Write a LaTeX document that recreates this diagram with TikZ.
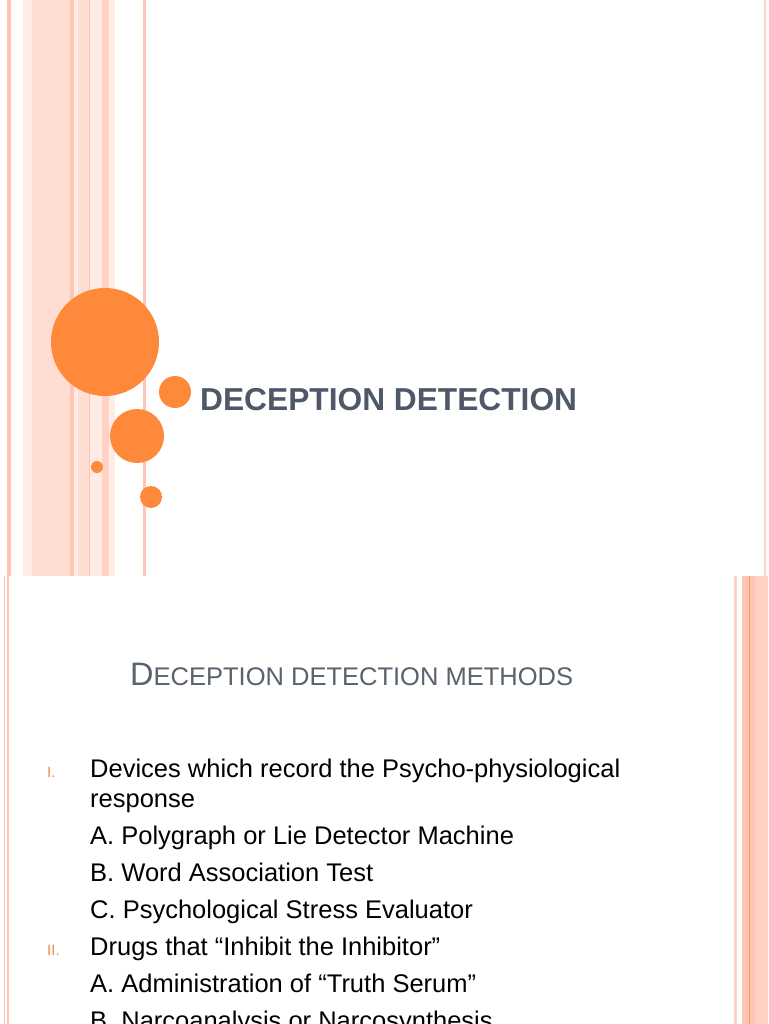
\documentclass[tikz,border=0pt]{standalone}
\usepackage{fontspec}
\setmainfont{Liberation Sans}
\begin{document}
\begin{tikzpicture}[x=1pt,y=-1pt,
  orng/.style={fill={rgb,255:red,255;green,137;blue,58}, draw=none},
  title/.style={font=\fontsize{31.7}{34}\selectfont\bfseries, text={rgb,255:red,79;green,88;blue,104}, anchor=base west, inner sep=0},
  item/.style={font=\fontsize{25.5}{28}\selectfont, anchor=base west, inner sep=0},
  num/.style={font=\fontsize{15}{18}\selectfont, text={rgb,255:red,240;green,140;blue,80}, anchor=base west, inner sep=0}]
\definecolor{p1}{RGB}{255,221,210}
\definecolor{p2}{RGB}{255,196,178}
\definecolor{p3}{RGB}{255,236,230}
\definecolor{p4}{RGB}{255,210,196}
\definecolor{o2}{RGB}{250,150,95}
\useasboundingbox (0,0) rectangle (768,1024);
\fill[white] (0,0) rectangle (768,1024);
% top slide stripes
\fill[p2] (7,0) rectangle (11,576);
\fill[p3] (23,0) rectangle (32,576);
\fill[p1] (32,0) rectangle (70,576);
\fill[p2] (70,0) rectangle (74,576);
\fill[p3] (74,0) rectangle (78,576);
\fill[p1] (78,0) rectangle (89,576);
\fill[p2] (89,0) rectangle (90,576);
\fill[p3] (90,0) rectangle (102,576);
\fill[p4] (102,0) rectangle (109,576);
\fill[p3] (109,0) rectangle (115,576);
\fill[p2] (143,0) rectangle (146,576);
\fill[p4] (764,0) rectangle (766,576);
% circles
\fill[orng] (105,342) circle (54);
\fill[orng] (175,392) circle (16);
\fill[orng] (137,436) circle (27);
\fill[orng] (97,467) circle (6);
\fill[orng] (151,497) circle (11);
\node[title] (t1) at (200,410) {DECEPTION DETECTION};
% bottom slide stripes
\fill[p2] (4,576) rectangle (5,1024);
\fill[p2] (7,576) rectangle (9,1024);
\fill[p4] (734,576) rectangle (737,1024);
\fill[p2] (742,576) rectangle (768,1024);
\fill[o2] (748.5,576) rectangle (750,1024);
\fill[p4] (755,576) rectangle (768,1024);
\node[anchor=base west, inner sep=0, text={rgb,255:red,89;green,99;blue,110}] (t2) at (130,685)
  {\fontsize{32.5}{34}\selectfont D\fontsize{25.5}{28}\selectfont ECEPTION DETECTION METHODS};
\node[num] (n1) at (47,777) {I.};
\node[item] (l1) at (90,777) {Devices which record the Psycho-physiological};
\node[item] (l2) at (90,807) {response};
\node[item] (l3) at (90,844) {A. Polygraph or Lie Detector Machine};
\node[item] (l4) at (90,881) {B. Word Association Test};
\node[item] (l5) at (90,918) {C. Psychological Stress Evaluator};
\node[num] (n2) at (47,955) {II.};
\node[item] (l6) at (90,955) {Drugs that “Inhibit the Inhibitor”};
\node[item] (l7) at (90,992) {A. Administration of “Truth Serum”};
\node[item] (l8) at (90,1029) {B. Narcoanalysis or Narcosynthesis};
\end{tikzpicture}
\end{document}
